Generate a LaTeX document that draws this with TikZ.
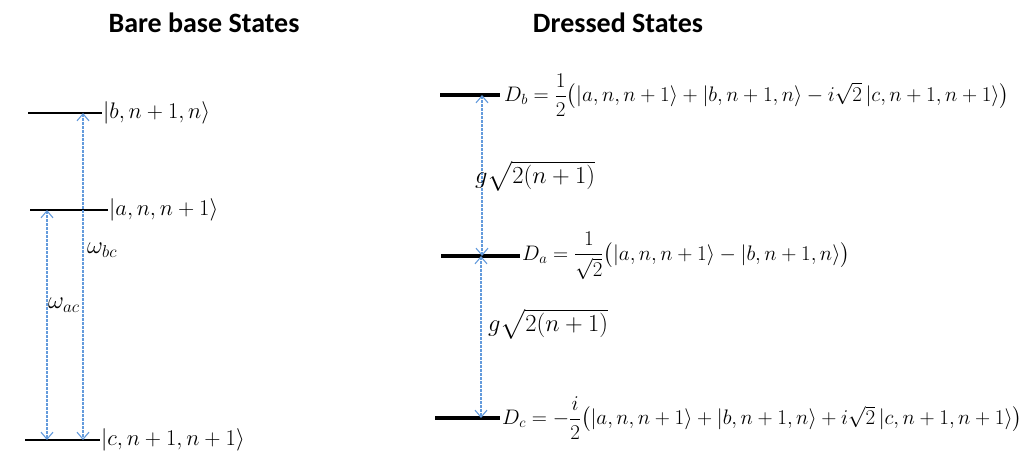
\RequirePackage{fix-cm}
\documentclass[tikz,border=0pt]{standalone}
\usepackage{amsmath}
\usepackage{fontspec}
\newfontfamily\titlefont{Carlito}
\usetikzlibrary{arrows.meta}
\begin{document}
\begin{tikzpicture}[x=1pt,y=-1pt]
	\tikzstyle{level}=[draw=black, line width=2pt]
	\tikzstyle{dlevel}=[draw=black, line width=4.5pt]
	\tikzstyle{trans}=[draw={rgb,255:red,100;green,155;blue,220}, line width=1.1pt, dash pattern=on 2.5pt off 1.5pt, {Straight Barb[length=7pt,width=12pt]}-{Straight Barb[length=7pt,width=12pt]}]
	\tikzstyle{state}=[anchor=west, inner sep=1pt, font=\fontsize{21}{25}\selectfont]
	\tikzstyle{bare}=[anchor=west, inner sep=1pt, font=\fontsize{22.5}{27}\selectfont]
	\tikzstyle{gap}=[anchor=west, inner sep=1pt, font=\fontsize{24.5}{28}\selectfont]
	\tikzstyle{title}=[font=\titlefont\bfseries\fontsize{28}{34}\selectfont]
	\useasboundingbox (0,0) rectangle (1032,465);
	% titles
	\node [title] (t1) at (204,23) {Bare base States};
	\node [title] (t2) at (618,23) {Dressed States};
	% bare states
	\begin{scope}
		\coordinate (b1) at (28,113);  \coordinate (b2) at (102,113);
		\coordinate (a1) at (30,210);  \coordinate (a2) at (108,210);
		\coordinate (c1) at (25,440);  \coordinate (c2) at (100,440);
		\path[level] (b1) -- (b2);
		\path[level] (a1) -- (a2);
		\path[level] (c1) -- (c2);
		\node [bare] (sb) at (b2) {$|b,n+1,n\rangle$};
		\node [bare] (sa) at (a2) {$|a,n,n+1\rangle$};
		\node [bare] (sc) at (c2) {$|c,n+1,n+1\rangle$};
		\coordinate (ac1) at (47,210); \coordinate (ac2) at (47,440);
		\coordinate (bc1) at (83,113); \coordinate (bc2) at (83,440);
		\path[trans] (ac1) -- (ac2);
		\path[trans] (bc1) -- (bc2);
		\node [gap] (wac) at (47,305) {$\omega_{ac}$};
		\node [gap] (wbc) at (86,250) {$\omega_{bc}$};
	\end{scope}
	% dressed states
	\begin{scope}
		\coordinate (db1) at (440,95);  \coordinate (db2) at (500,95);
		\coordinate (da1) at (441,256); \coordinate (da2) at (520,256);
		\coordinate (dc1) at (435,418); \coordinate (dc2) at (500,418);
		\path[dlevel] (db1) -- (db2);
		\path[dlevel] (da1) -- (da2);
		\path[dlevel] (dc1) -- (dc2);
		\node [state] (sdb) at (503,95) {$D_b=\dfrac{1}{2}\bigl(|a,n,n+1\rangle+|b,n+1,n\rangle-i\sqrt{2}\,|c,n+1,n+1\rangle\bigr)$};
		\node [state] (sda) at (521,256) {$D_a=\dfrac{1}{\sqrt{2}}\bigl(|a,n,n+1\rangle-|b,n+1,n\rangle\bigr)$};
		\node [state] (sdc) at (501,418) {$D_c=-\dfrac{i}{2}\bigl(|a,n,n+1\rangle+|b,n+1,n\rangle+i\sqrt{2}\,|c,n+1,n+1\rangle\bigr)$};
		\coordinate (g1) at (482,95);  \coordinate (g2) at (482,256);
		\coordinate (g3) at (481,256); \coordinate (g4) at (481,418);
		\path[trans] (g1) -- (g2);
		\path[trans] (g3) -- (g4);
		\node [gap] (gu) at (474,176) {$g\sqrt{2(n+1)}$};
		\node [gap] (gl) at (487,324) {$g\sqrt{2(n+1)}$};
	\end{scope}
\end{tikzpicture}
\end{document}
